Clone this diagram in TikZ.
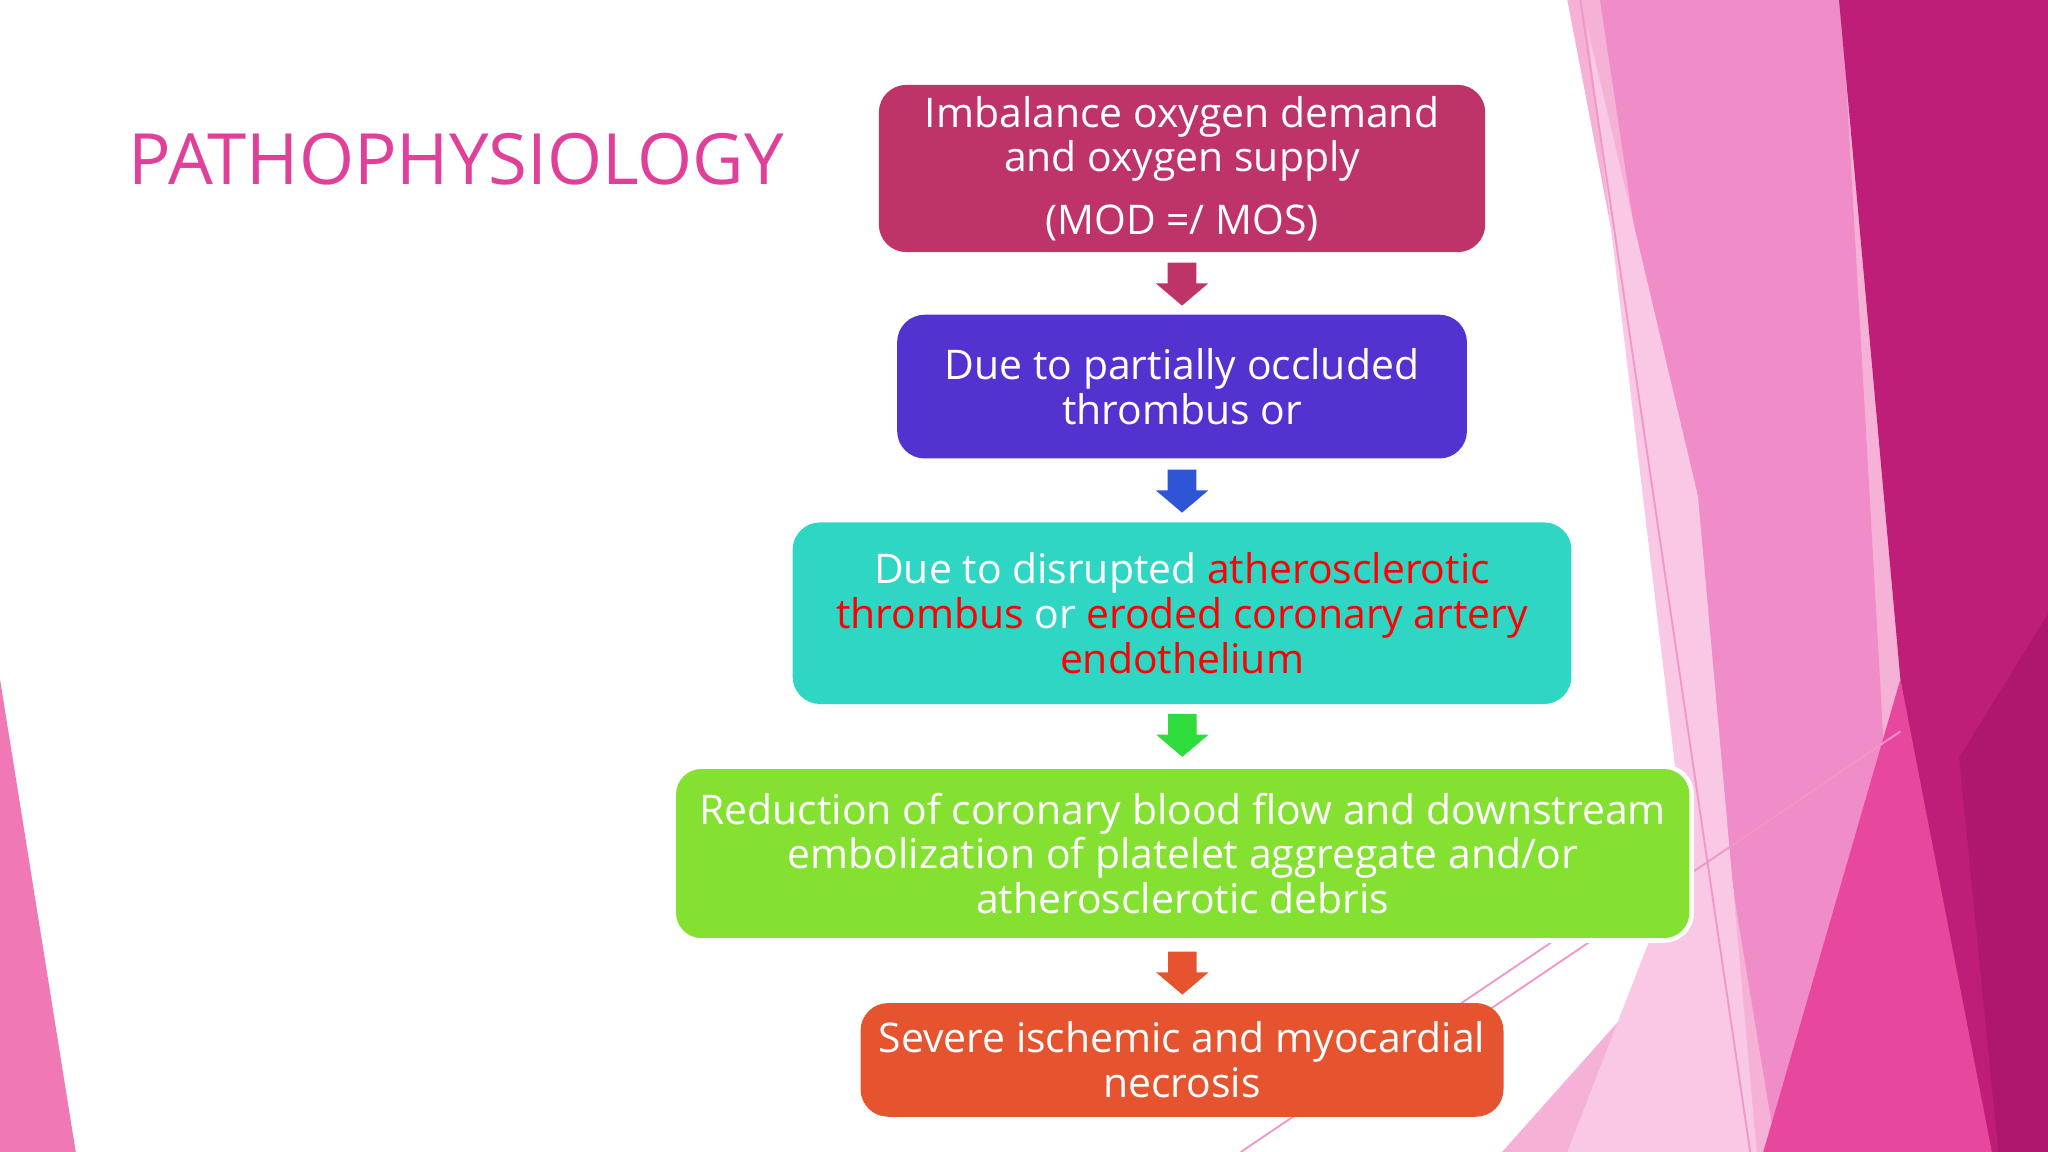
\documentclass[tikz,border=0pt]{standalone}
\usepackage{fontspec}
\setmainfont{Open Sans}
\begin{document}
\begin{tikzpicture}[x=0.01cm,y=-0.01cm,
 box/.style={rounded corners=6pt,text=white,align=center,font=\fontsize{8.9}{9.7}\selectfont,inner sep=0pt},
 barrow/.style={fill=#1,draw=none}]
\useasboundingbox (0,0) rectangle (1568,882);
\fill[white] (0,0) rectangle (1568,882);
% background decoration
\fill[color={rgb,255:red,246;green,178;blue,214}] (1200,0) -- (1420,0) -- (1470,600) -- (1380,882) -- (1150,882) -- (1330,680) -- cycle;
\fill[color={rgb,255:red,240;green,140;blue,200}] (1225,0) -- (1410,0) -- (1445,620) -- (1420,882) -- (1360,882) -- (1330,700) -- cycle;
\fill[color={rgb,255:red,248;green,200;blue,228}] (1215,20) -- (1300,380) -- (1345,882) -- (1200,882) -- (1290,650) -- cycle;
\fill[color={rgb,255:red,190;green,30;blue,120}] (1408,0) -- (1568,0) -- (1568,882) -- (1515,882) -- (1455,520) -- cycle;
\fill[color={rgb,255:red,232;green,71;blue,158}] (1455,520) -- (1525,882) -- (1350,882) -- cycle;
\fill[color={rgb,255:red,175;green,22;blue,110}] (1500,580) -- (1568,470) -- (1568,882) -- (1530,882) -- cycle;
\fill[color={rgb,255:red,240;green,120;blue,180}] (0,520) -- (58,882) -- (0,882) -- cycle;
\draw[color={rgb,255:red,240;green,150;blue,200},thin] (1210,0) -- (1340,882);
\draw[color={rgb,255:red,240;green,150;blue,200},thin] (1130,780) -- (1455,560);
\draw[color={rgb,255:red,240;green,150;blue,200},thin] (950,882) -- (1190,720);
% title
\node[anchor=west,text={rgb,255:red,224;green,64;blue,154},font=\fontsize{15.4}{18}\selectfont,inner sep=0pt] (title) at (98,122) {PATHOPHYSIOLOGY};
% boxes
\node[box,fill={rgb,255:red,190;green,52;blue,105},minimum width=4.64cm,minimum height=1.28cm] (b1) at (905,129)
 {Imbalance oxygen demand\\and oxygen supply\\[4pt](MOD =/ MOS)};
\node[box,fill={rgb,255:red,82;green,51;blue,207},minimum width=4.36cm,minimum height=1.10cm] (b2) at (905,296)
 {Due to partially occluded\\thrombus or};
\node[box,fill={rgb,255:red,47;green,214;blue,195},minimum width=5.96cm,minimum height=1.39cm] (b3) at (905,469.5)
 {Due to disrupted \textcolor{red}{atherosclerotic}\\\textcolor{red}{thrombus} or \textcolor{red}{eroded coronary artery}\\\textcolor{red}{endothelium}};
\node[box,fill={rgb,255:red,132;green,224;blue,49},draw=white,line width=1pt,minimum width=7.79cm,minimum height=1.33cm] (b4) at (905.5,653.5)
 {Reduction of coronary blood flow and downstream\\embolization of platelet aggregate and/or\\atherosclerotic debris};
\node[box,fill={rgb,255:red,229;green,83;blue,47},minimum width=4.92cm,minimum height=0.87cm] (b5) at (905,811.5)
 {Severe ischemic and myocardial\\necrosis};
% arrows
\foreach \a/\b/\c in {b1/b2/{rgb,255:red,190;green,52;blue,105},b2/b3/{rgb,255:red,46;green,85;blue,214},b3/b4/{rgb,255:red,46;green,221;blue,59},b4/b5/{rgb,255:red,229;green,83;blue,47}}{
 \path (\a.south) -- (\b.north) coordinate[midway] (m\a);
 \fill[color=\c] ([shift={(-11,-16)}]m\a) -- ([shift={(11,-16)}]m\a) -- ([shift={(11,0)}]m\a) -- ([shift={(20,0)}]m\a) -- ([shift={(0,17)}]m\a) -- ([shift={(-20,0)}]m\a) -- ([shift={(-11,0)}]m\a) -- cycle;
}
\end{tikzpicture}
\end{document}
